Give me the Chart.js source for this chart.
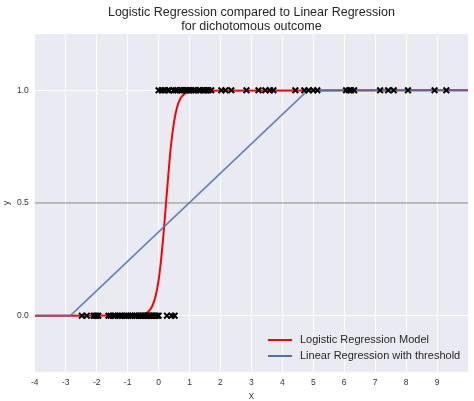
<!DOCTYPE html>
<html>
<head>
<meta charset="utf-8">
<script src="https://cdn.jsdelivr.net/npm/chart.js@4.4.1/dist/chart.umd.min.js"></script>
<style>
  html, body { margin: 0; padding: 0; background: #fff; }
  #wrap { width: 474px; height: 401px; }
</style>
</head>
<body>
<div id="wrap"><canvas id="logChart"></canvas></div>
<script>
// samples with outcome 0 and 1 (x positions)
const xClass0 = [-2.48, -2.32, -2.1, -2.05, -2.0, -1.95, -1.62, -1.55, -1.45, -1.4,
  -1.32, -1.25, -1.18, -1.1, -1.05, -0.98, -0.9, -0.85, -0.78, -0.72, -0.65, -0.6,
  -0.55, -0.5, -0.45, -0.4, -0.35, -0.3, -0.25, -0.2, -0.15, -0.1, -0.05, 0.0,
  0.27, 0.42, 0.52];
const xClass1 = [0.0, 0.1, 0.19, 0.3, 0.35, 0.48, 0.55, 0.61, 0.7, 0.74, 0.8, 0.9,
  0.95, 1.0, 1.05, 1.13, 1.2, 1.29, 1.35, 1.45, 1.5, 1.55, 1.61, 1.7, 2.03, 2.16,
  2.35, 2.84, 3.23, 3.45, 3.6, 3.71, 4.42, 4.71, 4.85, 5.0, 5.13, 6.06, 6.16,
  6.22, 6.32, 7.16, 7.42, 7.6, 8.06, 8.92, 9.3];

// logistic regression curve
const logitX = [-4, -0.6, -0.4, -0.3, -0.2, -0.1, 0, 0.1, 0.2, 0.3, 0.4, 0.5, 0.6, 0.7, 0.8, 0.9, 1.1, 10];
const logitY = [0, 0.003, 0.011, 0.022, 0.044, 0.085, 0.157, 0.273, 0.43, 0.6, 0.754, 0.86, 0.926, 0.962, 0.98, 0.99, 0.998, 1];

// linear regression clipped to [0, 1]
const linX = [-4, -2.85, 4.82, 10];
const linY = [0, 0, 1, 1];

const threshold = 0.5;
const xTicks = [-4, -3, -2, -1, 0, 1, 2, 3, 4, 5, 6, 7, 8, 9];
const yTicks = [0, 0.5, 1];

const FONT = '"Liberation Sans", Arial, sans-serif';
const pts = (xs, ys) => xs.map((x, i) => ({ x, y: ys[i] }));

const bgPlugin = {
  id: 'bg',
  beforeDraw(chart) {
    const { ctx, chartArea: a } = chart;
    ctx.save();
    ctx.fillStyle = '#EAEAF2';
    ctx.fillRect(a.left, a.top, a.right - a.left, a.bottom - a.top);
    ctx.restore();
  }
};

// legend in lower right corner of the axes
const legendPlugin = {
  id: 'innerLegend',
  afterDraw(chart) {
    const { ctx, chartArea: a } = chart;
    const items = chart.data.datasets
      .filter(d => d.legendRank)
      .sort((p, q) => p.legendRank - q.legendRank);
    ctx.save();
    ctx.font = '11px ' + FONT;
    ctx.textBaseline = 'middle';
    items.forEach((d, i) => {
      const y = a.bottom - 32 + i * 16;
      ctx.strokeStyle = d.legendColor;
      ctx.lineWidth = 2;
      ctx.beginPath();
      ctx.moveTo(a.right - 200, y);
      ctx.lineTo(a.right - 176, y);
      ctx.stroke();
      ctx.fillStyle = '#262626';
      ctx.fillText(d.label, a.right - 168, y);
    });
    ctx.restore();
  }
};

new Chart(document.getElementById('logChart'), {
  type: 'scatter',
  data: {
    datasets: [
      {
        label: 'samples 0', data: xClass0.map(x => ({ x, y: 0 })),
        pointStyle: 'crossRot', pointRadius: 4, pointBorderWidth: 2,
        borderColor: '#000', backgroundColor: '#000', order: 0
      },
      {
        label: 'samples 1', data: xClass1.map(x => ({ x, y: 1 })),
        pointStyle: 'crossRot', pointRadius: 4, pointBorderWidth: 2,
        borderColor: '#000', backgroundColor: '#000', order: 0
      },
      {
        label: 'Linear Regression with threshold', data: pts(linX, linY),
        showLine: true, borderColor: 'rgba(76,114,176,0.85)', borderWidth: 1.6, pointRadius: 0,
        legendRank: 2, legendColor: '#4C72B0', order: 1
      },
      {
        label: 'Logistic Regression Model', data: pts(logitX, logitY),
        showLine: true, borderColor: '#FF0000', borderWidth: 2, pointRadius: 0,
        cubicInterpolationMode: 'monotone', legendRank: 1, legendColor: '#FF0000', order: 2
      },
      {
        label: 'threshold', data: [{ x: -4, y: threshold }, { x: 10, y: threshold }],
        showLine: true, borderColor: '#808080', borderWidth: 1.2, pointRadius: 0, order: 3
      }
    ]
  },
  options: {
    responsive: true,
    maintainAspectRatio: false,
    animation: false,
    layout: { padding: { right: 6, left: 0 } },
    plugins: {
      legend: { display: false },
      tooltip: { enabled: false },
      title: {
        display: true,
        fullSize: false,
        text: ['Logistic Regression compared to Linear Regression', 'for dichotomous outcome'],
        color: '#262626',
        font: { family: FONT, size: 12.5, weight: 'normal', lineHeight: 1.12 },
        padding: { top: 6, bottom: 0 }
      }
    },
    scales: {
      x: {
        type: 'linear', min: -4, max: 10,
        border: { display: false },
        grid: { color: '#fff', lineWidth: 1, drawTicks: false },
        afterBuildTicks: s => { s.ticks = xTicks.map(v => ({ value: v })); },
        ticks: {
          color: '#333', padding: 6,
          font: { family: FONT, size: 8.5, lineHeight: 1 },
          callback: v => String(v)
        },
        title: {
          display: true, text: 'X', color: '#333',
          font: { family: FONT, size: 8.5, lineHeight: 1 },
          padding: { top: 0, bottom: 0 }
        }
      },
      y: {
        type: 'linear', min: -0.25, max: 1.25,
        border: { display: false },
        grid: { color: '#fff', lineWidth: 1, drawTicks: false },
        afterBuildTicks: s => { s.ticks = yTicks.map(v => ({ value: v })); },
        ticks: {
          color: '#333', padding: 6,
          font: { family: FONT, size: 8.5 },
          callback: v => v.toFixed(1)
        },
        title: {
          display: true, text: 'y', color: '#333',
          font: { family: FONT, size: 9, lineHeight: 1 },
          padding: { top: 2, bottom: 0 }
        }
      }
    }
  },
  plugins: [bgPlugin, legendPlugin]
});
</script>
</body>
</html>
